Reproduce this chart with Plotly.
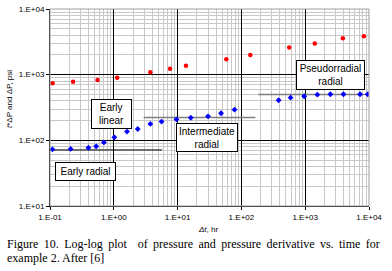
import plotly.graph_objects as go

# pressure change, psi
dp_time = [0.11, 0.23, 0.556, 1.13, 3.74, 7.6, 13.5, 58, 138, 562, 1413, 3890, 8300]
dp_psi = [738, 782, 832, 900, 1084, 1233, 1370, 1710, 1995, 2600, 2990, 3600, 3860]

# pressure derivative, psi
der_time = [0.109, 0.21, 0.40, 0.53, 0.70, 1.02, 1.61, 2.37, 3.74, 5.6, 9.6, 16.1,
            30, 48, 78, 383, 590, 964, 1550, 2480, 3980, 7240, 9560]
der_psi = [73, 74, 77, 81, 93, 111, 136, 149, 178, 193, 209, 221,
           232, 258, 293, 407, 447, 470, 496, 503, 503, 503, 503]

# flow regime levels
early_radial_x = [0.1, 5.7]
early_radial_y = [71.4, 71.4]
intermediate_x = [2.94, 166]
intermediate_y = [222, 222]
pseudo_x = [184, 10000]
pseudo_y = [497, 497]

x_tick_vals = [0.1, 1, 10, 100, 1000, 10000]
x_tick_text = ["1.E-01", "1.E+00", "1.E+01", "1.E+02", "1.E+03", "1.E+04"]
y_tick_vals = [10, 100, 1000, 10000]
y_tick_text = ["1.E+01", "1.E+02", "1.E+03", "1.E+04"]

caption_1 = "Figure 10. Log-log plot  of pressure and pressure derivative vs. time for"
caption_2 = "example 2. After [6]"

W, H = 392, 271
PL, PR, PT, PB = 50, 369, 9, 206  # plot area in pixels


def px(x):
    return (x - PL) / (PR - PL)


def py(y):
    return (PB - y) / (PB - PT)


fig = go.Figure()

fig.add_trace(go.Scatter(x=early_radial_x, y=early_radial_y, mode="lines",
                         line=dict(color="black", width=1)))
fig.add_trace(go.Scatter(x=intermediate_x, y=intermediate_y, mode="lines",
                         line=dict(color="#808080", width=1.5)))
fig.add_trace(go.Scatter(x=pseudo_x, y=pseudo_y, mode="lines",
                         line=dict(color="#808080", width=1.5)))

fig.add_trace(go.Scatter(x=dp_time, y=dp_psi, mode="markers",
                         marker=dict(color="#ff0000", size=4.5, symbol="circle")))
fig.add_trace(go.Scatter(x=der_time, y=der_psi, mode="markers",
                         marker=dict(color="#0000ff", size=4.5, symbol="diamond")))

box_font = dict(family="Liberation Sans, Arial", size=10, color="black")
# text, center x/y in pixels, width, height
boxes = [
    ("Early<br>linear", 111, 114.3, 37, 26),
    ("Early radial", 85, 171.8, 57, 15),
    ("Intermediate<br>radial", 207, 137.5, 58, 25),
    ("Pseudorradial<br>radial", 330.3, 75.2, 65, 26),
]
for text, bx, by, w, h in boxes:
    fig.add_annotation(x=px(bx), y=py(by), xref="paper", yref="paper", text=text,
                       xanchor="center", yanchor="middle",
                       showarrow=False, font=box_font, bgcolor="white",
                       bordercolor="black", borderwidth=1, borderpad=1, width=w, height=h)

axis_font = dict(family="Liberation Sans, Arial", size=8, color="black")
common = dict(type="log", tickfont=axis_font, showgrid=True, gridcolor="black", gridwidth=1,
              minor=dict(dtick="D1", showgrid=True, gridcolor="#c8c8c8", gridwidth=1),
              showline=True, linecolor="black", ticks="outside", ticklen=3,
              tickcolor="black", zeroline=False, automargin=False)
fig.update_xaxes(range=[-1, 4], tickvals=x_tick_vals, ticktext=x_tick_text, **common)
fig.update_yaxes(range=[1, 4], tickvals=y_tick_vals, ticktext=y_tick_text, **common)

# grey frame on top/right
fig.add_shape(type="rect", xref="paper", yref="paper", x0=0, y0=0, x1=1, y1=1,
              line=dict(color="#a0a0a0", width=1))

fig.add_annotation(xref="paper", yref="paper", x=px(208), y=py(230),
                   xanchor="center", yanchor="middle",
                   text="<i>Δt</i>, hr", showarrow=False, font=axis_font)
fig.add_annotation(xref="paper", yref="paper", x=px(9), y=py(99), textangle=-90,
                   xanchor="center", yanchor="middle",
                   text="<i>t</i>*ΔP and ΔP, psi", showarrow=False, font=axis_font)

# caption line 1 is justified in the source, so widen the word gaps a little
cap_font = dict(family="Liberation Serif, Times New Roman", size=12, color="black")
fig.add_annotation(xref="paper", yref="paper", x=px(5), y=py(243.5), xanchor="left",
                   yanchor="middle", align="left", showarrow=False, font=cap_font,
                   text=caption_1.replace(" ", " \u2009"))
fig.add_annotation(xref="paper", yref="paper", x=px(5), y=py(257.5), xanchor="left",
                   yanchor="middle", align="left", showarrow=False, font=cap_font,
                   text=caption_2)

fig.update_layout(width=W, height=H,
                  margin=dict(l=PL, r=W - PR, t=PT, b=H - PB),
                  paper_bgcolor="white", plot_bgcolor="white", showlegend=False)

# drop the browser's default body margin so the figure sits at the page corner
fig.write_html("out.html", config={"displayModeBar": False},
               post_script="document.body.style.margin = '0';")
